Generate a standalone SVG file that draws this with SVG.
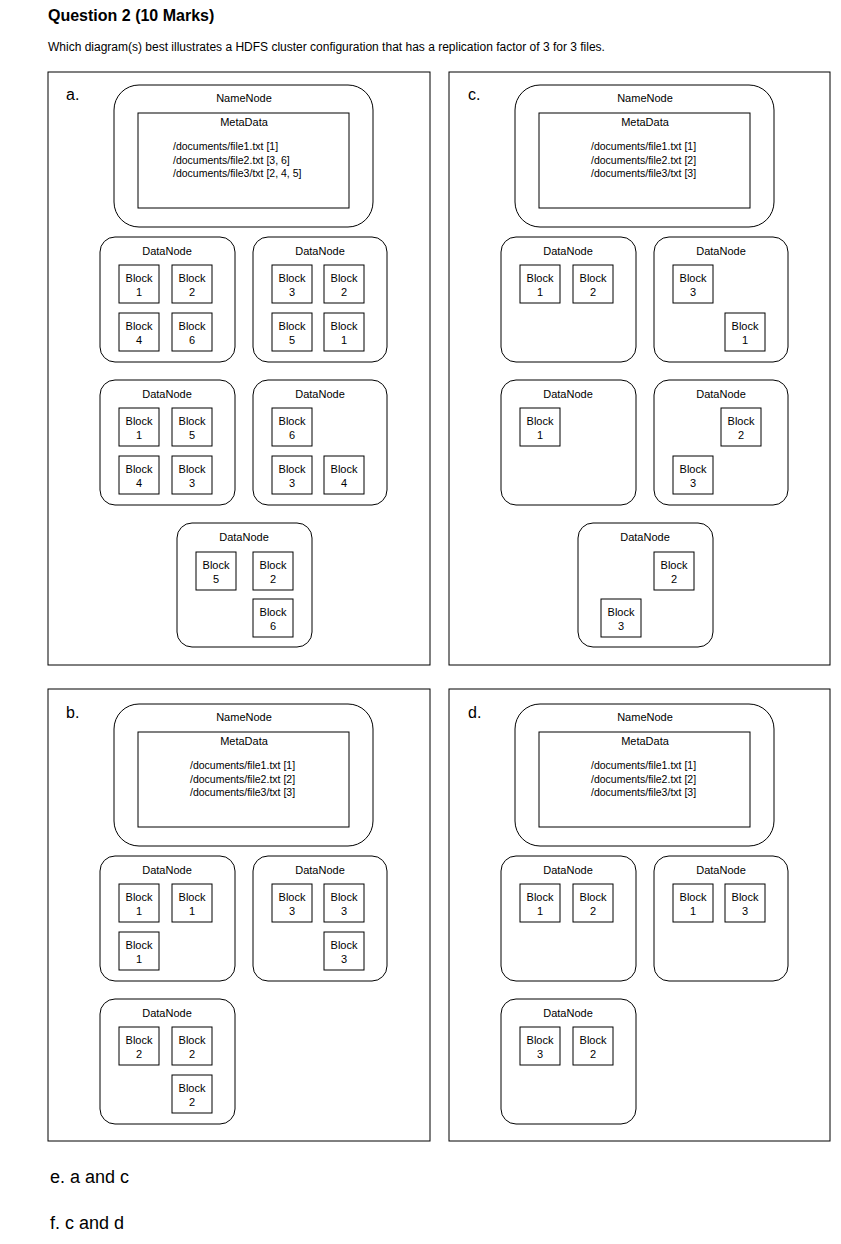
<svg xmlns="http://www.w3.org/2000/svg" width="841" height="1244" viewBox="0 0 841 1244">
<style>
text{font-family:"Liberation Sans",Arial,sans-serif;fill:#000}
.s{font-size:11px;text-anchor:middle}
.m{font-size:10.5px}
.p{fill:#fff;stroke:#000;stroke-width:1}
.nn{fill:#fff;stroke:#000;stroke-width:1}
</style>
<defs>
<g id="bk"><rect class="p" x="0" y="0" width="40" height="38"/></g>
</defs>
<rect width="841" height="1244" fill="#fff"/>
<text x="48" y="21" style="font-size:16px;font-weight:bold">Question 2 (10 Marks)</text>
<text x="48" y="51" style="font-size:12px">Which diagram(s) best illustrates a HDFS cluster configuration that has a replication factor of 3 for 3 files.</text>

<!-- Panel a -->
<g id="panel-a">
<rect class="p" x="48" y="72" width="382" height="593"/>
<text x="66" y="100" style="font-size:16px">a.</text>
<g id="a-namenode"><rect class="nn" x="114" y="85" width="259" height="142" rx="25"/>
<text class="s" x="244" y="102">NameNode</text>
<rect class="p" x="138" y="113" width="211" height="95"/>
<text class="s" x="244" y="126">MetaData</text>
<text class="m" x="173" y="150">/documents/file1.txt [1]</text>
<text class="m" x="173" y="164">/documents/file2.txt [3, 6]</text>
<text class="m" x="173" y="177">/documents/file3/txt [2, 4, 5]</text></g>
<g id="a-dn1"><rect class="nn" x="100" y="237" width="135" height="125" rx="15"/><text class="s" x="167" y="255">DataNode</text>
<rect class="p" x="119" y="265" width="40" height="38"/><text class="s" x="139" y="282">Block</text><text class="s" x="139" y="296">1</text>
<rect class="p" x="172" y="265" width="40" height="38"/><text class="s" x="192" y="282">Block</text><text class="s" x="192" y="296">2</text>
<rect class="p" x="119" y="313" width="40" height="38"/><text class="s" x="139" y="330">Block</text><text class="s" x="139" y="344">4</text>
<rect class="p" x="172" y="313" width="40" height="38"/><text class="s" x="192" y="330">Block</text><text class="s" x="192" y="344">6</text></g>
<g id="a-dn2"><rect class="nn" x="253" y="237" width="134" height="125" rx="15"/><text class="s" x="320" y="255">DataNode</text>
<rect class="p" x="272" y="265" width="40" height="38"/><text class="s" x="292" y="282">Block</text><text class="s" x="292" y="296">3</text>
<rect class="p" x="324" y="265" width="40" height="38"/><text class="s" x="344" y="282">Block</text><text class="s" x="344" y="296">2</text>
<rect class="p" x="272" y="313" width="40" height="38"/><text class="s" x="292" y="330">Block</text><text class="s" x="292" y="344">5</text>
<rect class="p" x="324" y="313" width="40" height="38"/><text class="s" x="344" y="330">Block</text><text class="s" x="344" y="344">1</text></g>
<g id="a-dn3"><rect class="nn" x="100" y="380" width="135" height="125" rx="15"/><text class="s" x="167" y="398">DataNode</text>
<rect class="p" x="119" y="408" width="40" height="38"/><text class="s" x="139" y="425">Block</text><text class="s" x="139" y="439">1</text>
<rect class="p" x="172" y="408" width="40" height="38"/><text class="s" x="192" y="425">Block</text><text class="s" x="192" y="439">5</text>
<rect class="p" x="119" y="456" width="40" height="38"/><text class="s" x="139" y="473">Block</text><text class="s" x="139" y="487">4</text>
<rect class="p" x="172" y="456" width="40" height="38"/><text class="s" x="192" y="473">Block</text><text class="s" x="192" y="487">3</text></g>
<g id="a-dn4"><rect class="nn" x="253" y="380" width="134" height="125" rx="15"/><text class="s" x="320" y="398">DataNode</text>
<rect class="p" x="272" y="408" width="40" height="38"/><text class="s" x="292" y="425">Block</text><text class="s" x="292" y="439">6</text>
<rect class="p" x="272" y="456" width="40" height="38"/><text class="s" x="292" y="473">Block</text><text class="s" x="292" y="487">3</text>
<rect class="p" x="324" y="456" width="40" height="38"/><text class="s" x="344" y="473">Block</text><text class="s" x="344" y="487">4</text></g>
<g id="a-dn5"><rect class="nn" x="177" y="523" width="135" height="124" rx="15"/><text class="s" x="244" y="541">DataNode</text>
<rect class="p" x="196" y="552" width="40" height="38"/><text class="s" x="216" y="569">Block</text><text class="s" x="216" y="583">5</text>
<rect class="p" x="253" y="552" width="40" height="38"/><text class="s" x="273" y="569">Block</text><text class="s" x="273" y="583">2</text>
<rect class="p" x="253" y="599" width="40" height="38"/><text class="s" x="273" y="616">Block</text><text class="s" x="273" y="630">6</text></g>
</g>

<!-- Panel c -->
<g id="panel-c">
<rect class="p" x="449" y="72" width="381" height="593"/>
<text x="468" y="100" style="font-size:16px">c.</text>
<g id="c-namenode"><rect class="nn" x="515" y="85" width="259" height="142" rx="25"/>
<text class="s" x="645" y="102">NameNode</text>
<rect class="p" x="539" y="113" width="211" height="95"/>
<text class="s" x="645" y="126">MetaData</text>
<text class="m" x="591" y="150">/documents/file1.txt [1]</text>
<text class="m" x="591" y="164">/documents/file2.txt [2]</text>
<text class="m" x="591" y="177">/documents/file3/txt [3]</text></g>
<g id="c-dn1"><rect class="nn" x="501" y="237" width="135" height="125" rx="15"/><text class="s" x="568" y="255">DataNode</text>
<rect class="p" x="520" y="265" width="40" height="38"/><text class="s" x="540" y="282">Block</text><text class="s" x="540" y="296">1</text>
<rect class="p" x="573" y="265" width="40" height="38"/><text class="s" x="593" y="282">Block</text><text class="s" x="593" y="296">2</text></g>
<g id="c-dn2"><rect class="nn" x="654" y="237" width="134" height="125" rx="15"/><text class="s" x="721" y="255">DataNode</text>
<rect class="p" x="673" y="265" width="40" height="38"/><text class="s" x="693" y="282">Block</text><text class="s" x="693" y="296">3</text>
<rect class="p" x="725" y="313" width="40" height="38"/><text class="s" x="745" y="330">Block</text><text class="s" x="745" y="344">1</text></g>
<g id="c-dn3"><rect class="nn" x="501" y="380" width="135" height="125" rx="15"/><text class="s" x="568" y="398">DataNode</text>
<rect class="p" x="520" y="408" width="40" height="38"/><text class="s" x="540" y="425">Block</text><text class="s" x="540" y="439">1</text></g>
<g id="c-dn4"><rect class="nn" x="654" y="380" width="134" height="125" rx="15"/><text class="s" x="721" y="398">DataNode</text>
<rect class="p" x="721" y="408" width="40" height="38"/><text class="s" x="741" y="425">Block</text><text class="s" x="741" y="439">2</text>
<rect class="p" x="673" y="456" width="40" height="38"/><text class="s" x="693" y="473">Block</text><text class="s" x="693" y="487">3</text></g>
<g id="c-dn5"><rect class="nn" x="578" y="523" width="135" height="124" rx="15"/><text class="s" x="645" y="541">DataNode</text>
<rect class="p" x="654" y="552" width="40" height="38"/><text class="s" x="674" y="569">Block</text><text class="s" x="674" y="583">2</text>
<rect class="p" x="601" y="599" width="40" height="38"/><text class="s" x="621" y="616">Block</text><text class="s" x="621" y="630">3</text></g>
</g>

<!-- Panel b -->
<g id="panel-b">
<rect class="p" x="48" y="689" width="382" height="452"/>
<text x="66" y="718" style="font-size:16px">b.</text>
<g id="b-namenode"><rect class="nn" x="114" y="704" width="259" height="142" rx="25"/>
<text class="s" x="244" y="721">NameNode</text>
<rect class="p" x="138" y="732" width="211" height="95"/>
<text class="s" x="244" y="745">MetaData</text>
<text class="m" x="190" y="769">/documents/file1.txt [1]</text>
<text class="m" x="190" y="783">/documents/file2.txt [2]</text>
<text class="m" x="190" y="796">/documents/file3/txt [3]</text></g>
<g id="b-dn1"><rect class="nn" x="100" y="856" width="135" height="125" rx="15"/><text class="s" x="167" y="874">DataNode</text>
<rect class="p" x="119" y="884" width="40" height="38"/><text class="s" x="139" y="901">Block</text><text class="s" x="139" y="915">1</text>
<rect class="p" x="172" y="884" width="40" height="38"/><text class="s" x="192" y="901">Block</text><text class="s" x="192" y="915">1</text>
<rect class="p" x="119" y="932" width="40" height="38"/><text class="s" x="139" y="949">Block</text><text class="s" x="139" y="963">1</text></g>
<g id="b-dn2"><rect class="nn" x="253" y="856" width="134" height="125" rx="15"/><text class="s" x="320" y="874">DataNode</text>
<rect class="p" x="272" y="884" width="40" height="38"/><text class="s" x="292" y="901">Block</text><text class="s" x="292" y="915">3</text>
<rect class="p" x="324" y="884" width="40" height="38"/><text class="s" x="344" y="901">Block</text><text class="s" x="344" y="915">3</text>
<rect class="p" x="324" y="932" width="40" height="38"/><text class="s" x="344" y="949">Block</text><text class="s" x="344" y="963">3</text></g>
<g id="b-dn3"><rect class="nn" x="100" y="999" width="135" height="125" rx="15"/><text class="s" x="167" y="1017">DataNode</text>
<rect class="p" x="119" y="1027" width="40" height="38"/><text class="s" x="139" y="1044">Block</text><text class="s" x="139" y="1058">2</text>
<rect class="p" x="172" y="1027" width="40" height="38"/><text class="s" x="192" y="1044">Block</text><text class="s" x="192" y="1058">2</text>
<rect class="p" x="172" y="1075" width="40" height="38"/><text class="s" x="192" y="1092">Block</text><text class="s" x="192" y="1106">2</text></g>
</g>

<!-- Panel d -->
<g id="panel-d">
<rect class="p" x="449" y="689" width="381" height="452"/>
<text x="468" y="718" style="font-size:16px">d.</text>
<g id="d-namenode"><rect class="nn" x="515" y="704" width="259" height="142" rx="25"/>
<text class="s" x="645" y="721">NameNode</text>
<rect class="p" x="539" y="732" width="211" height="95"/>
<text class="s" x="645" y="745">MetaData</text>
<text class="m" x="591" y="769">/documents/file1.txt [1]</text>
<text class="m" x="591" y="783">/documents/file2.txt [2]</text>
<text class="m" x="591" y="796">/documents/file3/txt [3]</text></g>
<g id="d-dn1"><rect class="nn" x="501" y="856" width="135" height="125" rx="15"/><text class="s" x="568" y="874">DataNode</text>
<rect class="p" x="520" y="884" width="40" height="38"/><text class="s" x="540" y="901">Block</text><text class="s" x="540" y="915">1</text>
<rect class="p" x="573" y="884" width="40" height="38"/><text class="s" x="593" y="901">Block</text><text class="s" x="593" y="915">2</text></g>
<g id="d-dn2"><rect class="nn" x="654" y="856" width="134" height="125" rx="15"/><text class="s" x="721" y="874">DataNode</text>
<rect class="p" x="673" y="884" width="40" height="38"/><text class="s" x="693" y="901">Block</text><text class="s" x="693" y="915">1</text>
<rect class="p" x="725" y="884" width="40" height="38"/><text class="s" x="745" y="901">Block</text><text class="s" x="745" y="915">3</text></g>
<g id="d-dn3"><rect class="nn" x="501" y="999" width="135" height="125" rx="15"/><text class="s" x="568" y="1017">DataNode</text>
<rect class="p" x="520" y="1027" width="40" height="38"/><text class="s" x="540" y="1044">Block</text><text class="s" x="540" y="1058">3</text>
<rect class="p" x="573" y="1027" width="40" height="38"/><text class="s" x="593" y="1044">Block</text><text class="s" x="593" y="1058">2</text></g>
</g>

<g id="connectors"/>
<text x="50" y="1183" style="font-size:18px">e.  a and c</text>
<text x="50" y="1229" style="font-size:18px">f.  c and d</text>
</svg>
